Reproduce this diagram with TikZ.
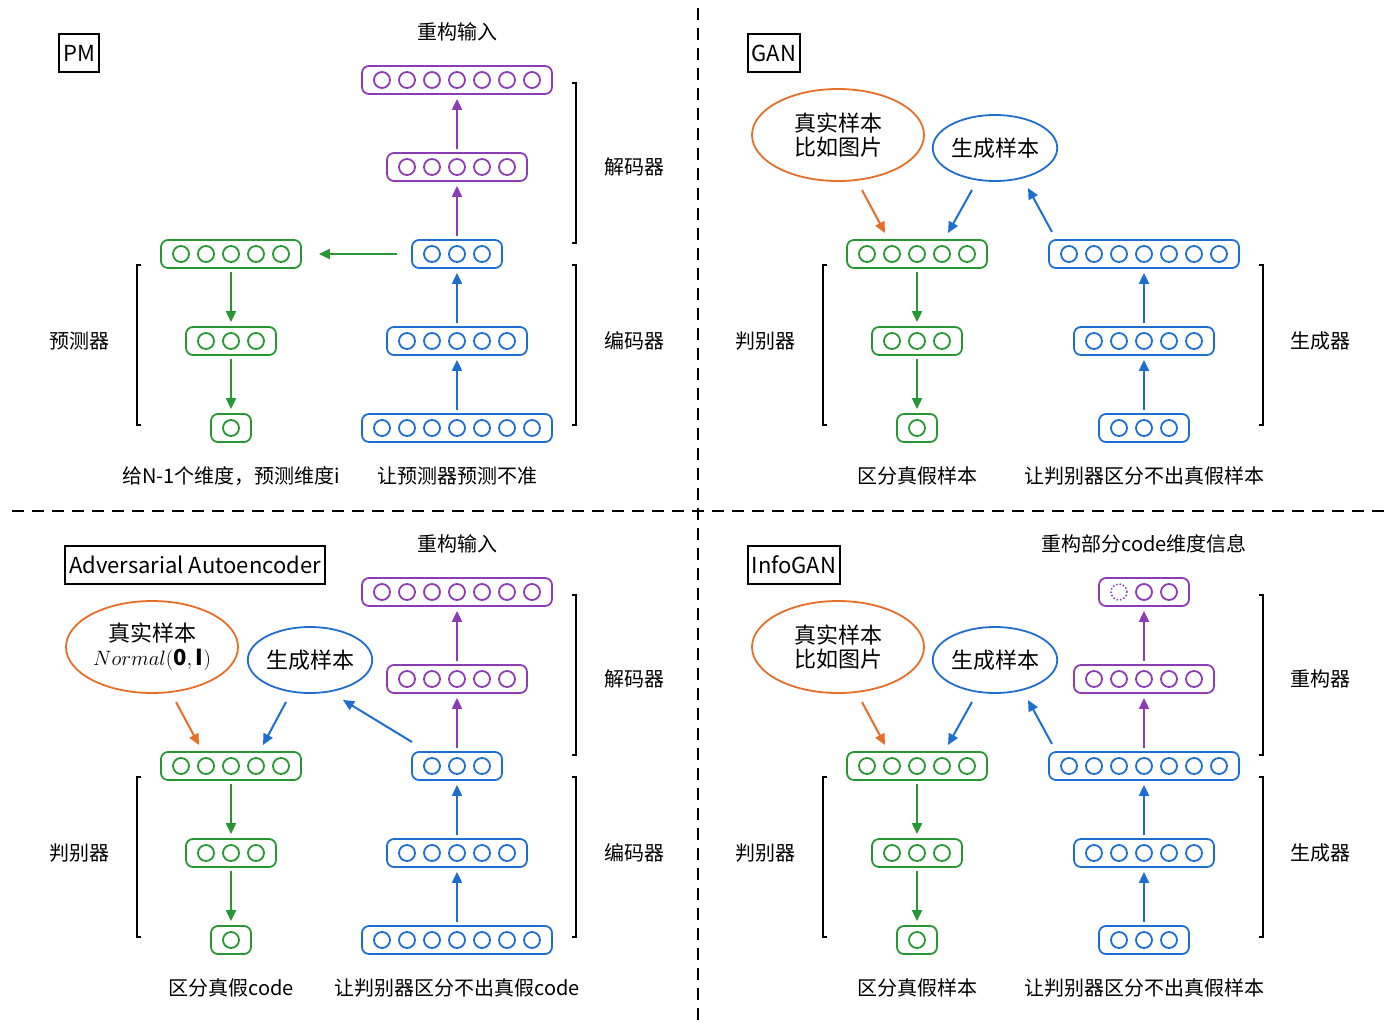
\documentclass[tikz,border=0pt]{standalone}
\usepackage{fontspec}
\setmainfont{Noto Sans CJK SC}
\usetikzlibrary{arrows.meta,calc,shapes.geometric}
\definecolor{cpur}{RGB}{140,60,180}
\definecolor{cblu}{RGB}{30,110,210}
\definecolor{cgrn}{RGB}{40,150,50}
\definecolor{corg}{RGB}{230,110,40}
\newcommand\mylayer[5]{%
  \node[draw=#5, line width=1.8pt, rounded corners=7pt, minimum width={#4*25+15}, minimum height=28, inner sep=0] (#1) at (#2,#3) {};
  \foreach \i in {1,...,#4} \draw[#5, line width=1.8pt] ($(#1.center)+({(\i-(#4+1)/2)*25},0)$) circle (8pt);}
\newcommand\mybr[3]{\draw[line width=1.2pt] (#1-4,#2)--(#1,#2)--(#1,#3)--(#1-4,#3);}
\begin{document}
\begin{tikzpicture}[x=1pt,y=-1pt,
  lbl/.style={font=\fontsize{20}{22}\selectfont},
  ttl/.style={draw,line width=1.5pt,inner sep=4pt,minimum height=38,font=\fontsize{22}{24}\selectfont},
  arr/.style={line width=2pt,-{Triangle[length=11pt,width=10pt]},shorten <=3pt,shorten >=4pt},
  ell/.style={ellipse,line width=1.8pt,inner sep=0,align=center,font=\fontsize{22}{24}\selectfont}]
\useasboundingbox (0,0) rectangle (1392,1034);
\draw[line width=1.5pt,dash pattern=on 12pt off 8pt] (698,8)--(698,1022);
\draw[line width=1.5pt,dash pattern=on 12pt off 8pt] (12,511)--(1385,511);
% ===== PM =====
\node[ttl] (tpm) at (79,53) {PM};
\mylayer{ap1}{457}{80}{7}{cpur}
\mylayer{ap2}{457}{167}{5}{cpur}
\mylayer{ab3}{457}{254}{3}{cblu}
\mylayer{ab2}{457}{341}{5}{cblu}
\mylayer{ab1}{457}{428}{7}{cblu}
\mylayer{ag5}{231}{254}{5}{cgrn}
\mylayer{ag3}{231}{341}{3}{cgrn}
\mylayer{ag1}{231}{428}{1}{cgrn}
\draw[arr,cblu] (ab1)--(ab2); \draw[arr,cblu] (ab2)--(ab3);
\draw[arr,cpur] (ab3)--(ap2); \draw[arr,cpur] (ap2)--(ap1);
\draw[arr,cgrn] (ag5)--(ag3); \draw[arr,cgrn] (ag3)--(ag1);
\draw[arr,cgrn,shorten <=14pt,shorten >=17pt] (ab3)--(ag5);
\node[lbl] (l1) at (457,32) {重构输入};
\node[lbl] (l2) at (634,167) {解码器};
\node[lbl] (l3) at (634,341) {编码器};
\node[lbl] (l4) at (79,341) {预测器};
\node[lbl] (l5) at (231,476) {给N-1个维度，预测维度i};
\node[lbl] (l6) at (457,476) {让预测器预测不准};
\mybr{576}{83}{243}\mybr{576}{265}{425}
\draw[line width=1.2pt] (141,265)--(137,265)--(137,425)--(141,425);
% ===== GAN =====
\node[ttl] (tgan) at (774,53) {GAN};
\mylayer{bg5}{917}{254}{5}{cgrn}
\mylayer{bg3}{917}{341}{3}{cgrn}
\mylayer{bg1}{917}{428}{1}{cgrn}
\mylayer{bb7}{1144}{254}{7}{cblu}
\mylayer{bb5}{1144}{341}{5}{cblu}
\mylayer{bb3}{1144}{428}{3}{cblu}
\draw[arr,cblu] (bb3)--(bb5); \draw[arr,cblu] (bb5)--(bb7);
\draw[arr,cgrn] (bg5)--(bg3); \draw[arr,cgrn] (bg3)--(bg1);
\node[ell,draw=corg,minimum width=172,minimum height=92] (be1) at (838,135) {真实样本\\比如图片};
\node[ell,draw=cblu,minimum width=116,minimum height=66] (be2) at (995,148) {生成样本};
\coordinate (c1) at (862,190); \coordinate (c2) at (885,233);
\coordinate (c3) at (972,190); \coordinate (c4) at (948,233);
\coordinate (c5) at (1052,232); \coordinate (c6) at (1028,188);
\draw[arr,corg,shorten <=0pt,shorten >=0pt] (c1)--(c2);
\draw[arr,cblu,shorten <=0pt,shorten >=0pt] (c3)--(c4);
\draw[arr,cblu,shorten <=0pt,shorten >=0pt] (c5)--(c6);
\node[lbl] (m1) at (765,341) {判别器};
\node[lbl] (m2) at (1320,341) {生成器};
\node[lbl] (m3) at (917,476) {区分真假样本};
\node[lbl] (m4) at (1144,476) {让判别器区分不出真假样本};
\draw[line width=1.2pt] (827,265)--(823,265)--(823,425)--(827,425);
\mybr{1263}{265}{425}
% ===== AAE =====
\node[ttl] (taae) at (195,565) {Adversarial Autoencoder};
\mylayer{cp1}{457}{592}{7}{cpur}
\mylayer{cp2}{457}{679}{5}{cpur}
\mylayer{cb3}{457}{766}{3}{cblu}
\mylayer{cb2}{457}{853}{5}{cblu}
\mylayer{cb1}{457}{940}{7}{cblu}
\mylayer{cg5}{231}{766}{5}{cgrn}
\mylayer{cg3}{231}{853}{3}{cgrn}
\mylayer{cg1}{231}{940}{1}{cgrn}
\draw[arr,cblu] (cb1)--(cb2); \draw[arr,cblu] (cb2)--(cb3);
\draw[arr,cpur] (cb3)--(cp2); \draw[arr,cpur] (cp2)--(cp1);
\draw[arr,cgrn] (cg5)--(cg3); \draw[arr,cgrn] (cg3)--(cg1);
\node[ell,draw=corg,minimum width=172,minimum height=92] (ce1) at (152,647) {真实样本\\$Normal(\mathbf{0},\mathbf{I})$};
\node[ell,draw=cblu,minimum width=116,minimum height=66] (ce2) at (310,660) {生成样本};
\coordinate (d1) at (176,702); \coordinate (d2) at (199,745);
\coordinate (d3) at (286,702); \coordinate (d4) at (263,745);
\coordinate (d5) at (412,742); \coordinate (d6) at (343,700);
\draw[arr,corg,shorten <=0pt,shorten >=0pt] (d1)--(d2);
\draw[arr,cblu,shorten <=0pt,shorten >=0pt] (d3)--(d4);
\draw[arr,cblu,shorten <=0pt,shorten >=0pt] (d5)--(d6);
\node[lbl] (n1) at (457,544) {重构输入};
\node[lbl] (n2) at (634,679) {解码器};
\node[lbl] (n3) at (634,853) {编码器};
\node[lbl] (n4) at (79,853) {判别器};
\node[lbl] (n5) at (231,988) {区分真假code};
\node[lbl] (n6) at (457,988) {让判别器区分不出真假code};
\mybr{576}{595}{755}\mybr{576}{777}{937}
\draw[line width=1.2pt] (141,777)--(137,777)--(137,937)--(141,937);
% ===== InfoGAN =====
\node[ttl] (tinfo) at (794,565) {InfoGAN};
\mylayer{dg5}{917}{766}{5}{cgrn}
\mylayer{dg3}{917}{853}{3}{cgrn}
\mylayer{dg1}{917}{940}{1}{cgrn}
\mylayer{db7}{1144}{766}{7}{cblu}
\mylayer{db5}{1144}{853}{5}{cblu}
\mylayer{db3}{1144}{940}{3}{cblu}
\mylayer{dp5}{1144}{679}{5}{cpur}
\node[draw=cpur, line width=1.8pt, rounded corners=7pt, minimum width=90, minimum height=28, inner sep=0] (dp3) at (1144,592) {};
\draw[cpur,line width=1.5pt,dotted] ($(dp3.center)+(-25,0)$) circle (8pt);
\draw[cpur,line width=1.8pt] (dp3.center) circle (8pt);
\draw[cpur,line width=1.8pt] ($(dp3.center)+(25,0)$) circle (8pt);
\draw[arr,cblu] (db3)--(db5); \draw[arr,cblu] (db5)--(db7);
\draw[arr,cpur] (db7)--(dp5); \draw[arr,cpur] (dp5)--(dp3);
\draw[arr,cgrn] (dg5)--(dg3); \draw[arr,cgrn] (dg3)--(dg1);
\node[ell,draw=corg,minimum width=172,minimum height=92] (de1) at (838,647) {真实样本\\比如图片};
\node[ell,draw=cblu,minimum width=116,minimum height=66] (de2) at (995,660) {生成样本};
\coordinate (e1) at (862,702); \coordinate (e2) at (885,745);
\coordinate (e3) at (972,702); \coordinate (e4) at (948,745);
\coordinate (e5) at (1052,744); \coordinate (e6) at (1028,700);
\draw[arr,corg,shorten <=0pt,shorten >=0pt] (e1)--(e2);
\draw[arr,cblu,shorten <=0pt,shorten >=0pt] (e3)--(e4);
\draw[arr,cblu,shorten <=0pt,shorten >=0pt] (e5)--(e6);
\node[lbl] (o0) at (1144,544) {重构部分code维度信息};
\node[lbl] (o1) at (765,853) {判别器};
\node[lbl] (o2) at (1320,679) {重构器};
\node[lbl] (o3) at (1320,853) {生成器};
\node[lbl] (o4) at (917,988) {区分真假样本};
\node[lbl] (o5) at (1144,988) {让判别器区分不出真假样本};
\draw[line width=1.2pt] (827,777)--(823,777)--(823,937)--(827,937);
\mybr{1263}{595}{755}\mybr{1263}{777}{937}
\end{tikzpicture}
\end{document}
